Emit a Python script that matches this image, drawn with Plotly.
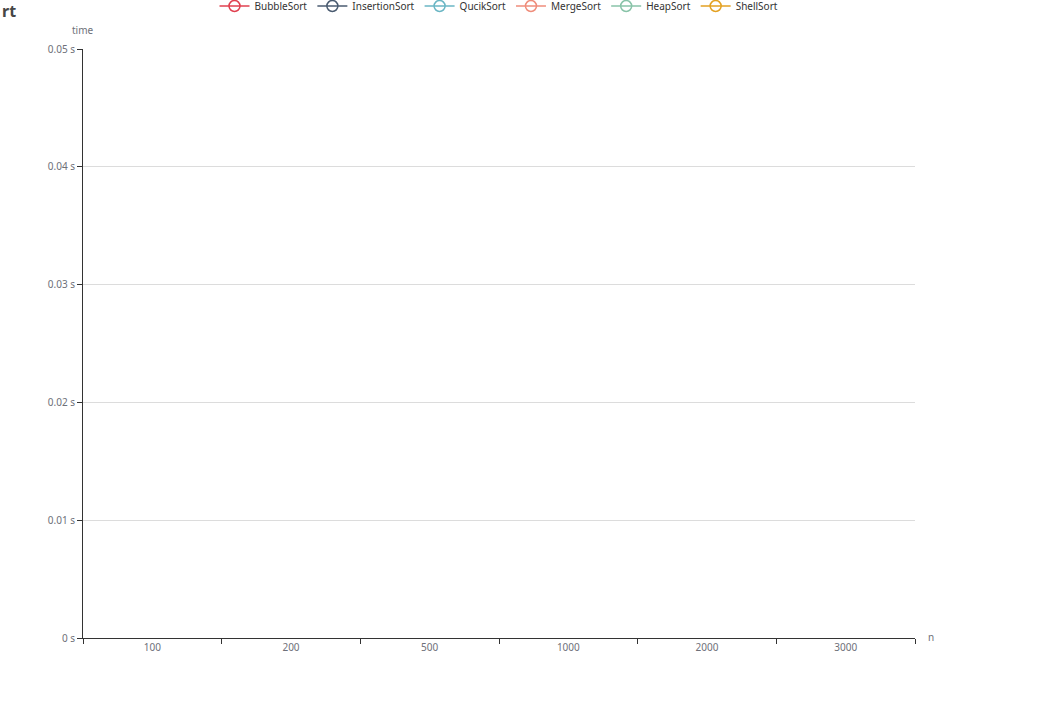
import plotly.graph_objects as go

categories = ["100", "200", "500", "1000", "2000", "3000"]
series_names = ["BubbleSort", "InsertionSort", "QucikSort", "MergeSort", "HeapSort", "ShellSort"]
series_colors = ["#e0404f", "#4a5b70", "#6ab6c4", "#ef8d7b", "#88c3a8", "#e3a122"]
# The series carry no values in the reference (empty chart)
series_values = {name: [None] * len(categories) for name in series_names}
y_tickvals = [0, 0.01, 0.02, 0.03, 0.04, 0.05]
y_ticktext = ["0 s", "0.01 s", "0.02 s", "0.03 s", "0.04 s", "0.05 s"]

W, H = 1055, 704
L, R, T, B = 83, 915, 49, 638
pw, ph = R - L, B - T

fig = go.Figure()
for name, color in zip(series_names, series_colors):
    fig.add_trace(go.Scatter(
        x=categories, y=series_values[name], name=name, mode="lines+markers",
        line=dict(color=color, width=1.5),
        marker=dict(symbol="circle-open", size=11, color=color, line=dict(width=1.5, color=color)),
    ))

fig.update_layout(
    width=W, height=H,
    margin=dict(l=L, r=W - R, t=T, b=H - B, pad=0, autoexpand=False),
    paper_bgcolor="white", plot_bgcolor="white",
    font=dict(family="Noto Sans", size=10, color="#6e7079"),
    showlegend=True,
    legend=dict(orientation="h", xref="container", yref="container",
                x=(L + R) / 2 / W, xanchor="center", y=1 - 6 / H, yanchor="middle",
                font=dict(size=10, color="#333"), itemwidth=30, tracegroupgap=0,
                bgcolor="rgba(0,0,0,0)"),
    xaxis=dict(type="category", categoryorder="array", categoryarray=categories,
               range=[-0.5, len(categories) - 0.5], tickson="boundaries",
               ticks="outside", ticklen=5, tickcolor="#333", showline=True, linecolor="#333",
               linewidth=1, showgrid=False, zeroline=False, fixedrange=True,
               tickfont=dict(size=10, color="#6e7079")),
    yaxis=dict(range=[0, 0.05], tickvals=y_tickvals, ticktext=y_ticktext,
               ticks="outside", ticklen=5, tickcolor="#333", showline=True, linecolor="#333",
               linewidth=1, showgrid=True, gridcolor="#dcdcdc", gridwidth=1, zeroline=False,
               tickfont=dict(size=10, color="#6e7079")),
    annotations=[
        dict(text="time", xref="paper", yref="paper", x=0, y=1 + 19 / ph, xanchor="center",
             yanchor="middle", showarrow=False, font=dict(size=10, color="#6e7079")),
        dict(text="n", xref="paper", yref="paper", x=1 + 16 / pw, y=0 + 1 / ph, xanchor="center",
             yanchor="middle", showarrow=False, font=dict(size=10, color="#6e7079")),
        dict(text="<b>rt</b>", xref="paper", yref="paper", x=-L / pw, y=1 + (T - 11) / ph,
             xanchor="left", yanchor="middle", showarrow=False,
             font=dict(size=16, color="#464646")),
    ],
)

fig.write_html("out.html", config={"displayModeBar": False},
               post_script="document.body.style.margin='0';")
